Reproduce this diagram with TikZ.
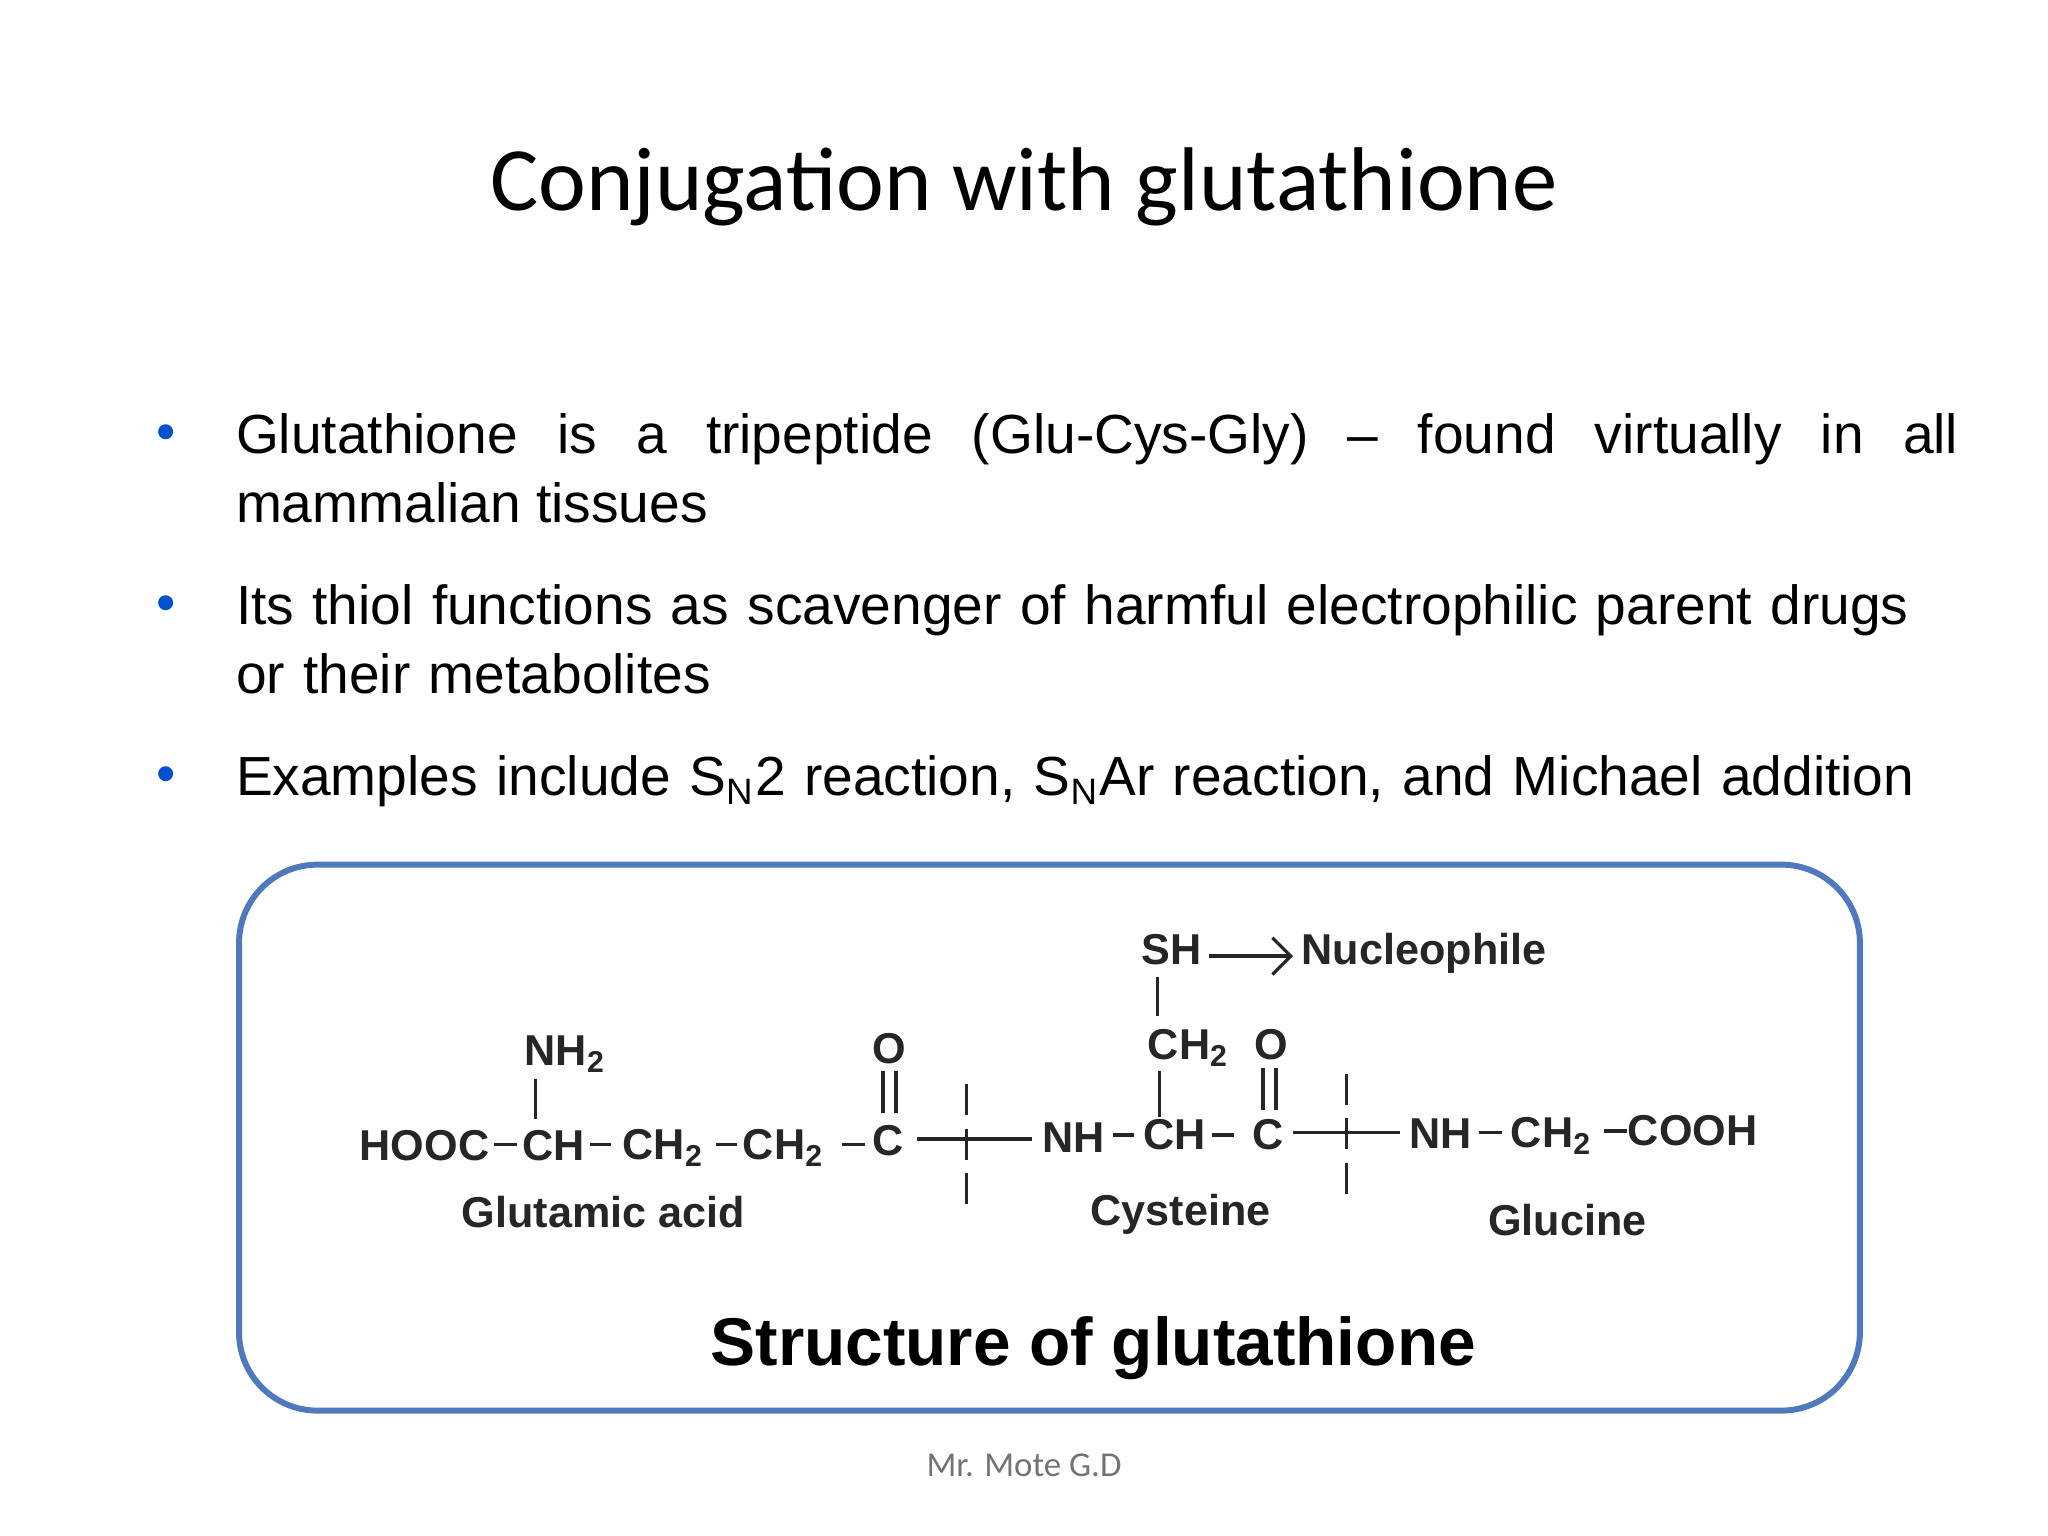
\documentclass[tikz,border=0pt]{standalone}
\usepackage{fontspec}
\usetikzlibrary{arrows.meta}
\setmainfont{Liberation Sans}
\newfontfamily\calib{Carlito}
\begin{document}
\hyphenpenalty=10000
\begin{tikzpicture}[x=0.01cm,y=-0.01cm,
  ch/.style={inner sep=0pt,font=\fontsize{9.4}{11}\selectfont\bfseries\color{black!85}},
  bond/.style={line width=0.7pt,black!85},
  sep/.style={line width=0.6pt,black!85,dash pattern=on 0.24cm off 0.1cm},
  body/.style={anchor=north west,inner sep=0pt,text width=13.18cm,font=\fontsize{12}{14.9}\selectfont},
  bul/.style={text=blue!60!cyan!80!black,font=\fontsize{12}{14}\selectfont}]
\useasboundingbox (0,0) rectangle (1568,1176);
\node[font=\calib\fontsize{19.7}{24}\selectfont] (title) at (784,143) {Conjugation with glutathione};
\node[bul] (b1) at (127,335) {•};
\node[bul] (b2) at (127,466) {•};
\node[bul] (b3) at (127,597) {•};
\node[body,align=justify] (t1) at (180,316)
 {Glutathione is a tripeptide (Glu-Cys-Gly) -- found virtually in all\linebreak mammalian tissues};
\node[body,align=left] (t2) at (180,447)
 {Its thiol functions as scavenger of harmful electrophilic parent drugs\\ or their metabolites};
\node[body,align=left,text width=14cm] (t3) at (180,578)
 {Examples include S\textsubscript{N}2 reaction, S\textsubscript{N}Ar reaction, and Michael addition};
\draw[line width=1.3pt,color={rgb,255:red,79;green,121;blue,189},rounded corners=0.6cm] (183,662) rectangle (1424,1080);
% chain
\node[ch] (hooc) at (325,877) {HOOC};
\node[ch] (ch1) at (424,877) {CH};
\node[ch] (ch2) at (508,879) {CH$_{\mathbf 2}$};
\node[ch] (ch3) at (600,879) {CH$_{\mathbf 2}$};
\node[ch] (c1) at (680,873) {C};
\node[ch] (nh1) at (822,871) {NH};
\node[ch] (ch4) at (899,869) {CH};
\node[ch] (c2) at (971,869) {C};
\node[ch] (nh2) at (1103,868) {NH};
\node[ch] (ch5) at (1188,870) {CH$_{\mathbf 2}$};
\node[ch] (cooh) at (1296,866) {COOH};
\node[ch] (nh2g) at (433,807) {NH$_{\mathbf 2}$};
\node[ch] (o1) at (681,803) {O};
\node[ch] (ch2s) at (910,802) {CH$_{\mathbf 2}$};
\node[ch] (o2) at (973,800) {O};
\node[ch] (sh) at (897,727) {SH};
\node[ch,anchor=west] (nuc) at (996,730) {Nucleophile};
\node[ch] (l1) at (462,928) {Glutamic acid};
\node[ch] (l2) at (904,930) {Cysteine};
\node[ch] (l3) at (1200,934) {Glucine};
\draw[bond] (378,876) -- (396,876);
\draw[bond] (452,876) -- (468,876);
\draw[bond] (548,876) -- (564,876);
\draw[bond] (645,876) -- (662,876);
\draw[bond] (702,872) -- (790,872);
\draw[bond] (852,869) -- (868,869);
\draw[bond] (928,869) -- (945,869);
\draw[bond] (990,867) -- (1072,867);
\draw[bond] (1132,867) -- (1150,867);
\draw[bond] (1228,866) -- (1246,866);
\draw[bond] (410,826) -- (410,857);
\draw[bond] (676,820) -- (676,852) (686,820) -- (686,852);
\draw[bond] (967,818) -- (967,850) (977,818) -- (977,850);
\draw[bond] (886,748) -- (886,778);
\draw[bond] (888,820) -- (888,855);
\draw[bond,-{Straight Barb[length=4pt]}] (926,732) -- (990,732);
\draw[sep] (740,830) -- (740,922);
\draw[sep] (1031,822) -- (1031,918);
\node[font=\fontsize{14.7}{18}\selectfont\bfseries] (cap) at (837,1032) {Structure of glutathione};
\node[font=\calib\fontsize{7.6}{10}\selectfont,text=black!55] (foot) at (784,1122) {Mr. Mote G.D};
\end{tikzpicture}
\end{document}
